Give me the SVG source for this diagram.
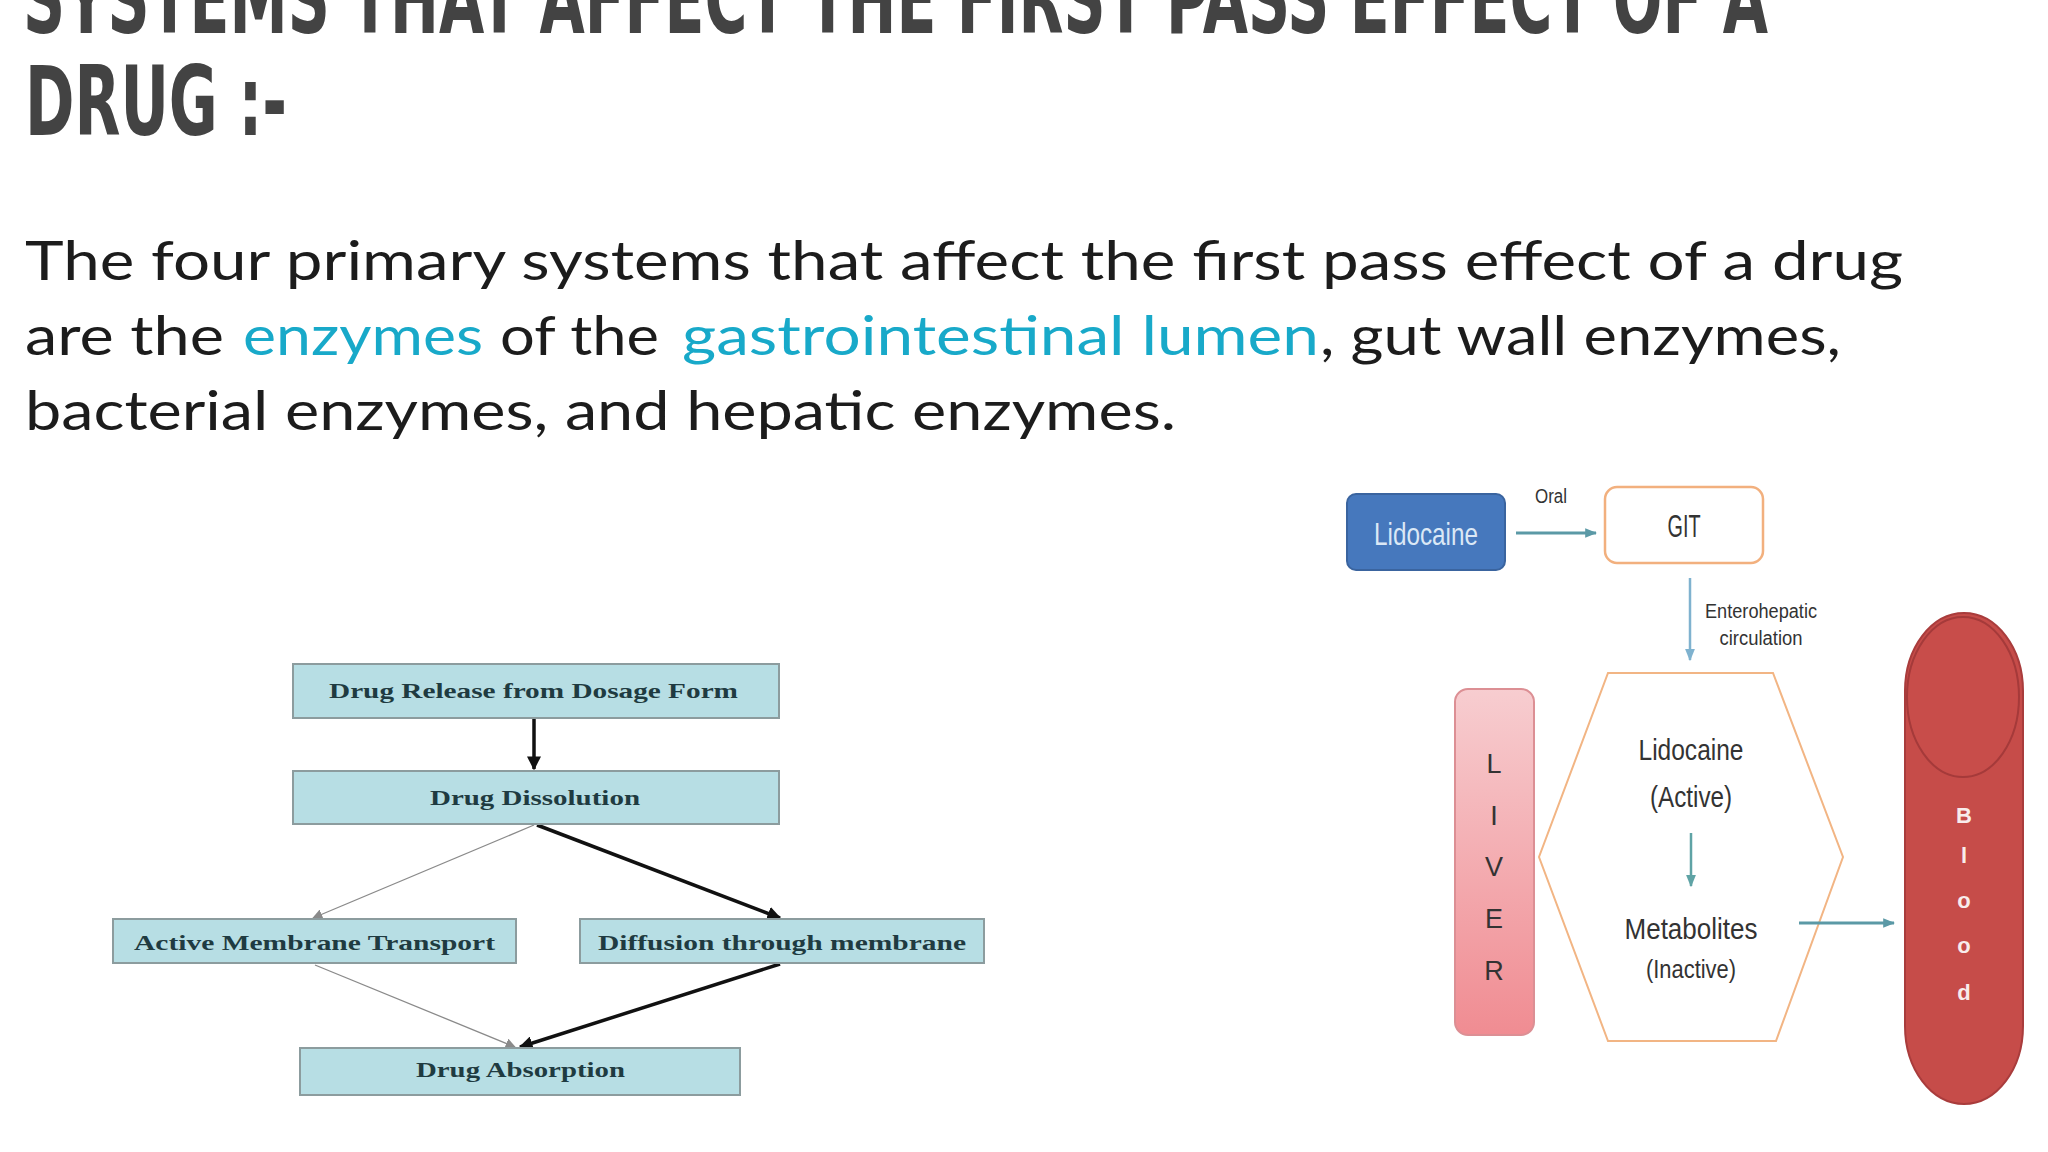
<svg xmlns="http://www.w3.org/2000/svg" width="2048" height="1152" viewBox="0 0 2048 1152">
<defs>
<style>
.title{font-family:"DejaVu Sans Condensed","Liberation Sans",sans-serif;font-weight:bold;font-size:96px;fill:#434343}
.para{font-family:Lato,"Open Sans","Liberation Sans",sans-serif;font-size:54px;fill:#1c1c1c}
.link{fill:#18a9c9}
.box{fill:#b7dee4;stroke:#8c9c9e;stroke-width:2}
.btxt{font-family:"Liberation Serif",serif;font-weight:bold;font-size:22px;fill:#1f3b41;text-anchor:start}
.thick{stroke:#111;stroke-width:3.5;fill:none}
.thin{stroke:#8a8a8a;stroke-width:1.3;fill:none}
.rt{font-family:"Liberation Sans",Arial,sans-serif;fill:#333}
.teal{stroke:#5b99a6;stroke-width:3;fill:none}
</style>
<marker id="ahB" viewBox="0 0 10 10" refX="9" refY="5" markerWidth="4" markerHeight="4" orient="auto" markerUnits="strokeWidth"><path d="M0,0 L10,5 L0,10 z" fill="#111"/></marker>
<marker id="ahG" viewBox="0 0 10 10" refX="9" refY="5" markerWidth="8" markerHeight="8" orient="auto" markerUnits="strokeWidth"><path d="M0,0 L10,5 L0,10 z" fill="#8a8a8a"/></marker>
<marker id="ahT" viewBox="0 0 10 10" refX="9" refY="5" markerWidth="4" markerHeight="4" orient="auto" markerUnits="strokeWidth"><path d="M0,1 L10,5 L0,9 z" fill="#5b99a6"/></marker>
<marker id="ahL" viewBox="0 0 10 10" refX="9" refY="5" markerWidth="5" markerHeight="5" orient="auto" markerUnits="strokeWidth"><path d="M0,1 L10,5 L0,9 z" fill="#7fb2cf"/></marker>
<marker id="ahH" viewBox="0 0 10 10" refX="9" refY="5" markerWidth="5" markerHeight="5" orient="auto" markerUnits="strokeWidth"><path d="M0,1 L10,5 L0,9 z" fill="#5fa3a5"/></marker>
<linearGradient id="liverG" x1="0" y1="0" x2="0" y2="1">
<stop offset="0" stop-color="#f7cdd0"/>
<stop offset="1" stop-color="#f08c92"/>
</linearGradient>
</defs>
<rect width="2048" height="1152" fill="#ffffff"/>

<g id="title">
<text class="title" x="23" y="33" textLength="1745" lengthAdjust="spacingAndGlyphs">SYSTEMS THAT AFFECT THE FIRST PASS EFFECT OF A</text>
<text class="title" x="25" y="135" textLength="262" lengthAdjust="spacingAndGlyphs">DRUG :-</text>
</g>

<g id="paragraph">
<text class="para" x="25" y="280" textLength="1878" lengthAdjust="spacingAndGlyphs">The four primary systems that affect the first pass effect of a drug</text>
<text class="para" x="25" y="355" textLength="199" lengthAdjust="spacingAndGlyphs">are the</text>
<text class="para link" x="243" y="355" textLength="240" lengthAdjust="spacingAndGlyphs">enzymes</text>
<text class="para" x="500" y="355" textLength="159" lengthAdjust="spacingAndGlyphs">of the</text>
<text class="para link" x="682" y="355" textLength="637" lengthAdjust="spacingAndGlyphs">gastrointestinal lumen</text>
<text class="para" x="1320" y="355" textLength="521" lengthAdjust="spacingAndGlyphs">, gut wall enzymes,</text>
<text class="para" x="25" y="430" textLength="1151" lengthAdjust="spacingAndGlyphs">bacterial enzymes, and hepatic enzymes.</text>
</g>

<g id="left-connectors">
<line class="thick" x1="534" y1="718" x2="534" y2="769" marker-end="url(#ahB)"/>
<line class="thin" x1="534" y1="825" x2="313" y2="918" marker-end="url(#ahG)"/>
<line class="thick" x1="537" y1="825" x2="780" y2="918" marker-end="url(#ahB)"/>
<line class="thin" x1="315" y1="965" x2="515" y2="1047" marker-end="url(#ahG)"/>
<line class="thick" x1="780" y1="964" x2="520" y2="1047" marker-end="url(#ahB)"/>
</g>

<g id="n-release">
<rect class="box" x="293" y="664" width="486" height="54"/>
<text class="btxt" x="329" y="698" textLength="409" lengthAdjust="spacingAndGlyphs">Drug Release from Dosage Form</text>
</g>
<g id="n-dissolution">
<rect class="box" x="293" y="771" width="486" height="53"/>
<text class="btxt" x="430" y="805" textLength="210" lengthAdjust="spacingAndGlyphs">Drug Dissolution</text>
</g>
<g id="n-active">
<rect class="box" x="113" y="919" width="403" height="44"/>
<text class="btxt" x="134" y="950" textLength="361" lengthAdjust="spacingAndGlyphs">Active Membrane Transport</text>
</g>
<g id="n-diffusion">
<rect class="box" x="580" y="919" width="404" height="44"/>
<text class="btxt" x="598" y="950" textLength="368" lengthAdjust="spacingAndGlyphs">Diffusion through membrane</text>
</g>
<g id="n-absorption">
<rect class="box" x="300" y="1048" width="440" height="47"/>
<text class="btxt" x="416" y="1077" textLength="209" lengthAdjust="spacingAndGlyphs">Drug Absorption</text>
</g>

<g id="n-lidocaine">
<rect x="1347" y="494" width="158" height="76" rx="9" fill="#4678bd" stroke="#3a649f" stroke-width="2"/>
<text x="1426" y="545" font-family="'Liberation Sans',Arial,sans-serif" font-size="32" fill="#dbe8f6" text-anchor="middle" textLength="104" lengthAdjust="spacingAndGlyphs">Lidocaine</text>
</g>

<g id="n-git">
<rect x="1605" y="487" width="158" height="76" rx="12" fill="#ffffff" stroke="#f2b07e" stroke-width="2.5"/>
<text class="rt" x="1684" y="537" font-size="31" text-anchor="middle" textLength="33" lengthAdjust="spacingAndGlyphs">GIT</text>
</g>

<g id="n-liver">
<rect x="1455" y="689" width="79" height="346" rx="13" fill="url(#liverG)" stroke="#dc8f94" stroke-width="2"/>
<text class="rt" x="1494" y="773" font-size="27" text-anchor="middle">L</text>
<text class="rt" x="1494" y="825" font-size="27" text-anchor="middle">I</text>
<text class="rt" x="1494" y="876" font-size="27" text-anchor="middle">V</text>
<text class="rt" x="1494" y="928" font-size="27" text-anchor="middle">E</text>
<text class="rt" x="1494" y="980" font-size="27" text-anchor="middle">R</text>
</g>

<g id="n-hexagon">
<polygon points="1608,673 1773,673 1843,857 1776,1041 1608,1041 1539,857" fill="#ffffff" stroke="#f2b584" stroke-width="2"/>
<text class="rt" x="1691" y="760" font-size="30" text-anchor="middle" textLength="105" lengthAdjust="spacingAndGlyphs">Lidocaine</text>
<text class="rt" x="1691" y="807" font-size="30" text-anchor="middle" textLength="82" lengthAdjust="spacingAndGlyphs">(Active)</text>
<text class="rt" x="1691" y="939" font-size="30" text-anchor="middle" textLength="133" lengthAdjust="spacingAndGlyphs">Metabolites</text>
<text class="rt" x="1691" y="978" font-size="25" text-anchor="middle" textLength="90" lengthAdjust="spacingAndGlyphs">(Inactive)</text>
</g>

<g id="n-blood">
<rect x="1905" y="613" width="118" height="491" rx="59" ry="78" fill="#c64c49" stroke="#a93c3c" stroke-width="2"/>
<ellipse cx="1963" cy="697" rx="56" ry="80" fill="#c84d4a" stroke="#a53a3a" stroke-width="2"/>
<g font-family="'Liberation Sans',Arial,sans-serif" font-weight="bold" font-size="22" fill="#f8ecec" text-anchor="middle">
<text x="1964" y="823">B</text>
<text x="1964" y="863">l</text>
<text x="1964" y="908">o</text>
<text x="1964" y="953">o</text>
<text x="1964" y="1000">d</text>
</g>
</g>

<g id="right-connectors">
<line class="teal" x1="1516" y1="533" x2="1596" y2="533" marker-end="url(#ahT)"/>
<line x1="1690" y1="578" x2="1690" y2="660" stroke="#7fb2cf" stroke-width="2.5" marker-end="url(#ahL)"/>
<line x1="1691" y1="833" x2="1691" y2="886" stroke="#5fa3a5" stroke-width="2.5" marker-end="url(#ahH)"/>
<line class="teal" x1="1799" y1="923" x2="1894" y2="923" marker-end="url(#ahT)"/>
<text class="rt" x="1551" y="503" font-size="20" text-anchor="middle" textLength="32" lengthAdjust="spacingAndGlyphs">Oral</text>
<text class="rt" x="1761" y="618" font-size="20" text-anchor="middle" textLength="112" lengthAdjust="spacingAndGlyphs">Enterohepatic</text>
<text class="rt" x="1761" y="645" font-size="20" text-anchor="middle" textLength="83" lengthAdjust="spacingAndGlyphs">circulation</text>
</g>
</svg>
